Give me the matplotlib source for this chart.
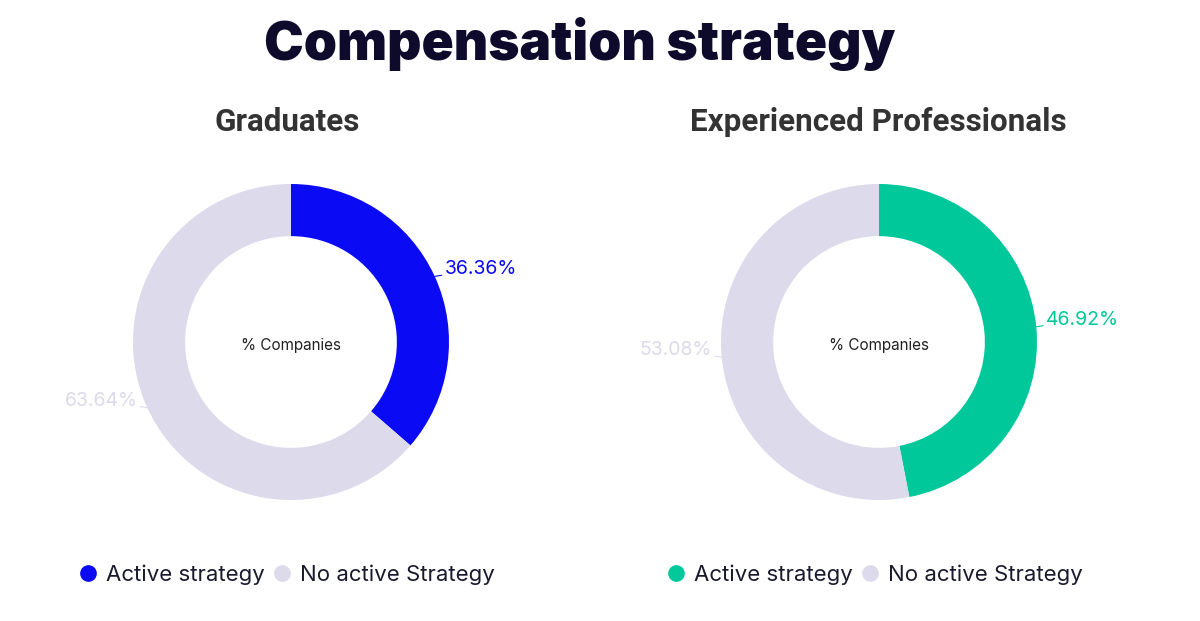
import matplotlib.pyplot as plt
import numpy as np

# Data
panels = ['Graduates', 'Experienced Professionals']
categories = ['Active strategy', 'No active Strategy']
grad_values = [36.36, 63.64]
exp_values = [46.92, 53.08]
pct_labels = [['36.36%', '63.64%'], ['46.92%', '53.08%']]

grey = '#dcdaeb'
colors = [['#0a0af5', grey], ['#00c89b', grey]]

plt.rcParams['font.family'] = ['Inter', 'DejaVu Sans']

fig = plt.figure(figsize=(12, 6.21), dpi=100)
W, H = 1200, 621

fig.text(580 / W, 1 - 44 / H, 'Compensation strategy', ha='center', va='center',
         fontsize=38.3, fontweight='black', color='#0d0a2b')

centers_x = [291, 879]
title_x = [287, 878]
r_px = 158
values = [grad_values, exp_values]

for i, name in enumerate(panels):
  cx = centers_x[i]
  cy = 342
  ax = fig.add_axes([(cx - r_px) / W, (H - cy - r_px) / H, 2 * r_px / W, 2 * r_px / H])
  wedges, _ = ax.pie(values[i], colors=colors[i], startangle=90, counterclock=False,
                     radius=1, wedgeprops=dict(width=0.33, linewidth=0))
  ax.set_xlim(-1, 1)
  ax.set_ylim(-1, 1)
  ax.set_aspect('equal')
  ax.axis('off')
  ax.text(0, -0.025, '% Companies', ha='center', va='center', fontsize=11, color='#222222')

  # Labels with short leader lines
  for w, lab, col in zip(wedges, pct_labels[i], colors[i]):
    ang = np.deg2rad((w.theta1 + w.theta2) / 2)
    x, y = np.cos(ang), np.sin(ang)
    side = 1 if x > 0 else -1
    ax.annotate(lab, xy=(x, y), xytext=(side * 7, 5), textcoords='offset points',
                ha='left' if side > 0 else 'right', va='center', fontsize=14,
                color=col, annotation_clip=False,
                arrowprops=dict(arrowstyle='-', color=col, lw=0.8,
                                shrinkA=0, shrinkB=0))

  fig.text(title_x[i] / W, 1 - 122 / H, name, ha='center', va='center', fontsize=22.6,
           fontweight='bold', color='#333333', family=['Roboto', 'DejaVu Sans'])

  handles = [plt.Line2D([], [], marker='o', linestyle='', markersize=11,
                        markerfacecolor=c, markeredgecolor=c) for c in colors[i]]
  fig.legend(handles, categories, loc='center', bbox_to_anchor=((cx - 5) / W, 1 - 575 / H),
             ncol=2, frameon=False, fontsize=16, handlelength=1.0, handletextpad=0.3,
             columnspacing=0.3, labelcolor='#1a1a2e')

plt.savefig('out.png', dpi=100, facecolor='white')
plt.close()
